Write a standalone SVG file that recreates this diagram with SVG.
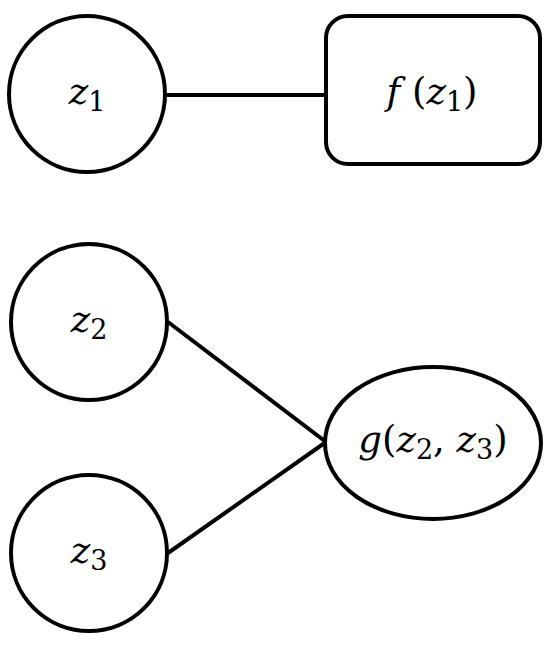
<svg xmlns="http://www.w3.org/2000/svg" width="550" height="645" viewBox="0 0 550 645">
<style>
.n{fill:#fff;stroke:#000;stroke-width:4}
.e{stroke:#000;stroke-width:4;fill:none}
.t{font-family:"DejaVu Serif","Liberation Serif",serif;font-size:37px;fill:#000;text-anchor:middle}
.i{font-style:italic}
.s{font-size:27px}
</style>
<rect width="550" height="645" fill="#fff"/>
<g id="connectors">
<line class="e" x1="165" y1="95" x2="326" y2="95"/>
<line class="e" x1="168" y1="322" x2="326" y2="442"/>
<line class="e" x1="168" y1="553" x2="326" y2="442"/>
</g>
<g id="z1"><circle class="n" cx="87" cy="94" r="78"/><text class="t" x="87" y="104"><tspan class="i">z</tspan><tspan class="s" dy="7">1</tspan></text></g>
<g id="fz1"><rect class="n" x="326" y="16" width="214" height="148" rx="22"/><text class="t" x="432" y="104"><tspan class="i">f</tspan> (<tspan class="i">z</tspan><tspan class="s" dy="7">1</tspan><tspan dy="-7">)</tspan></text></g>
<g id="z2"><circle class="n" cx="89" cy="322" r="78"/><text class="t" x="89" y="332"><tspan class="i">z</tspan><tspan class="s" dy="7">2</tspan></text></g>
<g id="z3"><circle class="n" cx="89" cy="553" r="78"/><text class="t" x="89" y="563"><tspan class="i">z</tspan><tspan class="s" dy="7">3</tspan></text></g>
<g id="g"><ellipse class="n" cx="433" cy="443" rx="108" ry="76"/><text class="t" x="433" y="452"><tspan class="i">g</tspan>(<tspan class="i">z</tspan><tspan class="s" dy="7">2</tspan><tspan dy="-7">, </tspan><tspan class="i">z</tspan><tspan class="s" dy="7">3</tspan><tspan dy="-7">)</tspan></text></g>
</svg>
